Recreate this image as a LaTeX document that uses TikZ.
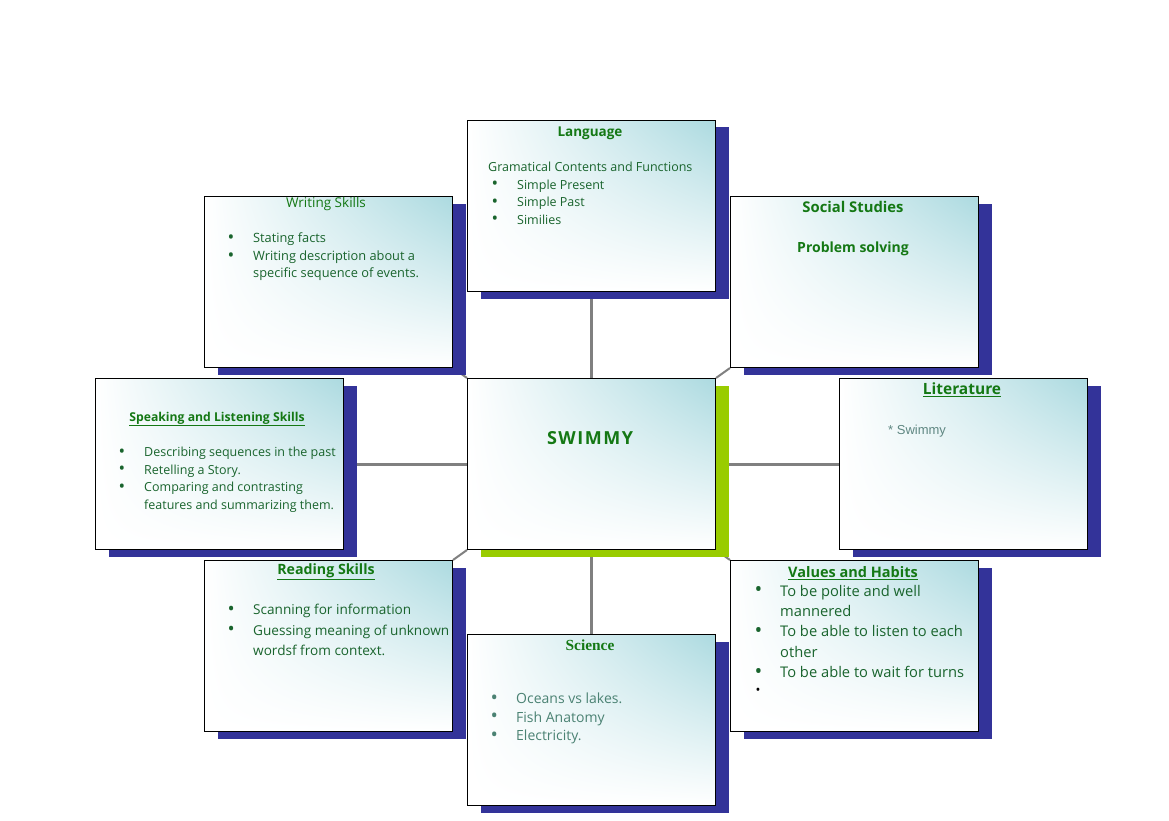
\documentclass[tikz,border=0pt]{standalone}
\usepackage{fontspec}
\setmainfont{Open Sans}
\newfontfamily\sciserif{Liberation Serif}
\newfontfamily\litsans{Liberation Sans}
\usetikzlibrary{shadows,shadings,backgrounds}
\definecolor{titlegreen}{RGB}{20,120,20}
\definecolor{bodygreen}{RGB}{25,100,45}
\definecolor{sciteal}{RGB}{75,130,115}
\definecolor{litteal}{RGB}{95,135,130}
\definecolor{navyshadow}{RGB}{51,51,153}
\definecolor{limeshadow}{RGB}{153,204,0}
\definecolor{cardteal}{RGB}{172,218,224}
\definecolor{linkgray}{RGB}{128,128,128}
% riga con pallino e riga di continuazione
\newcommand{\bul}{\makebox[25.5pt][l]{\raisebox{-0.6pt}{\scalebox{1.4}{\textbullet}}}}
\newcommand{\cont}{\hspace*{25.5pt}}
\tikzset{
  card/.style={draw=black, line width=1pt, minimum width=248pt, minimum height=171pt,
    inner sep=0pt, anchor=north west,
    upper right=cardteal, upper left=white, lower left=white, lower right=white,
    drop shadow={fill=#1, opacity=1, shadow xshift=13pt, shadow yshift=-7pt}},
  card/.default=navyshadow,
  link/.style={draw=linkgray, line width=3pt},
  diag/.style={draw=linkgray, line width=2pt},
  title/.style={text=titlegreen, inner sep=0pt, font=\bfseries\fontsize{13.5}{15}\selectfont},
  body/.style={text=bodygreen, align=left, anchor=north west, inner sep=0pt,
    font=\fontsize{12.5}{17.5}\selectfont},
  bigbody/.style={body, font=\fontsize{13.6}{20.4}\selectfont},
}
\begin{document}
\begin{tikzpicture}[x=1pt, y=-1pt]
    \useasboundingbox (0,0) rectangle (1169,821);
    % riquadri
    \node[card] (lang) at (467,120) {};
    \node[card] (writ) at (204,196) {};
    \node[card] (soc) at (730,196) {};
    \node[card] (speak) at (95,378) {};
    \node[card=limeshadow] (swim) at (467,378) {};
    \node[card] (lit) at (839,378) {};
    \node[card] (read) at (204,560) {};
    \node[card] (val) at (730,560) {};
    \node[card] (sci) at (467,634) {};
    % collegamenti dietro ai riquadri
    \begin{scope}[on background layer]
        \draw[link] (lang.south) -- (swim.north);
        \draw[link] (speak.east) -- (swim.west);
        \draw[link] (swim.east) -- (lit.west);
        \draw[link] (swim.south) -- (sci.north);
        \draw[diag] (writ.south east) -- (swim.north west);
        \draw[diag] (soc.south west) -- (swim.north east);
        \draw[diag] (read.north east) -- (swim.south west);
        \draw[diag] (val.north west) -- (swim.south east);
    \end{scope}
    % Language
    \node[title] (langT) at (590,133) {Language};
    \node[body] (langB) at (491.5,162) {\hspace*{-3.5pt}Gramatical Contents and Functions\\
        \bul Simple Present\\ \bul Simple Past\\ \bul Similies};
    % Writing Skills
    \node[title, font=\fontsize{13.5}{15}\selectfont] (writT) at (326,204) {Writing Skills};
    \node[body, font=\fontsize{12.8}{17.5}\selectfont] (writB) at (227.5,233)
        {\bul Stating facts\\
        \bul Writing description about a\\ \cont specific sequence of events.};
    % Social Studies
    \node[title, font=\bfseries\fontsize{14.8}{17}\selectfont] (socT) at (853,207) {Social Studies};
    \node[title, font=\bfseries\fontsize{14}{16}\selectfont] (socB) at (853,249) {Problem solving};
    % Speaking and Listening Skills
    \node[title, font=\bfseries\fontsize{12.2}{14}\selectfont] (speakT) at (217,419)
        {\underline{Speaking and Listening Skills}};
    \node[body] (speakB) at (118.5,447) {\bul Describing sequences in the past\\
        \bul Retelling a Story.\\ \bul Comparing and contrasting\\
        \cont features and summarizing them.};
    % SWIMMY
    \node[title, font=\bfseries\fontsize{18}{20}\selectfont] (swimT) at (590,438)
        {S\kern1.5pt W\kern1.5pt I\kern1.5pt M\kern1.5pt M\kern1.5pt Y};
    % Literature
    \node[title, font=\bfseries\fontsize{15.5}{17}\selectfont] (litT) at (962,390)
        {\underline{Literature}};
    \node[body, text=litteal, font=\litsans\fontsize{13}{15}\selectfont] (litB) at (888,425)
        {* Swimmy};
    % Reading Skills
    \node[title, font=\bfseries\fontsize{14.2}{16}\selectfont] (readT) at (326,572)
        {\underline{Reading Skills}};
    \node[bigbody] (readB) at (227.5,604) {\bul Scanning for information\\
        \bul Guessing meaning of unknown\\ \cont wordsf from context.};
    % Values and Habits
    \node[title, font=\bfseries\fontsize{14.5}{16}\selectfont] (valT) at (853,573)
        {\underline{Values and Habits}};
    \node[bigbody, font=\fontsize{14.7}{20.3}\selectfont] (valB) at (754.5,585)
        {\bul To be polite and well\\ \cont mannered\\
        \bul To be able to listen to each\\ \cont other\\
        \bul To be able to wait for turns\\[-3pt]
        \hspace*{1pt}\textcolor{black}{\fontsize{13}{13}\selectfont\textbullet}};
    % Science
    \node[title, font=\sciserif\bfseries\fontsize{15.4}{17}\selectfont] (sciT) at (590,645)
        {Science};
    \node[body, text=sciteal, font=\fontsize{14}{18.5}\selectfont] (sciB) at (490.5,693)
        {\bul Oceans vs lakes.\\
        \bul Fish Anatomy\\ \bul Electricity.};
\end{tikzpicture}
\end{document}
